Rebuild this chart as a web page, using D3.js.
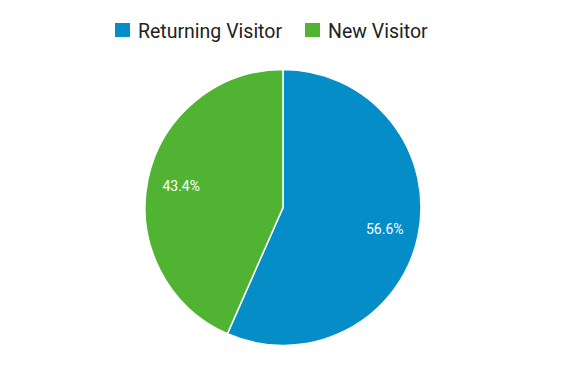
<!DOCTYPE html>
<html>
<head>
<meta charset="utf-8">
<script src="https://cdn.jsdelivr.net/npm/d3@7"></script>
<style>
  body { margin: 0; background: #fff; }
  text { font-family: Roboto, "Noto Sans", sans-serif; }
</style>
</head>
<body>
<svg id="chart" width="571" height="387"></svg>
<script>
// visitor split
const categories = ['Returning Visitor', 'New Visitor'];
const values = [56.6, 43.4];
const colours = ['#058dc7', '#50b432'];

const svg = d3.select('#chart');
const cx = 283, cy = 207.5, radius = 138;

let pie = d3.pie().sort(null).value(d => d.value);
let arcs = pie(categories.map((c, i) => ({name: c, value: values[i]})));
let arc = d3.arc().innerRadius(0).outerRadius(radius);
let labelArc = d3.arc().innerRadius(104).outerRadius(104);

let g = svg.append('g').attr('transform', `translate(${cx},${cy})`);

g.selectAll('path')
    .data(arcs)
    .enter().append('path')
    .attr('d', arc)
    .attr('fill', (d, i) => colours[i])
    .attr('stroke', '#fff')
    .attr('stroke-width', 1.5);

g.selectAll('text.lbl')
    .data(arcs)
    .enter().append('text')
    .attr('class', 'lbl')
    .attr('transform', d => `translate(${labelArc.centroid(d)})`)
    .attr('text-anchor', 'middle')
    .attr('dy', '0.35em')
    .attr('fill', '#fff')
    .attr('font-size', 14)
    .text(d => d.data.value.toFixed(1) + '%');

// legend along the top
let legendX = [115, 305];
let legend = svg.selectAll('g.legend')
    .data(categories)
    .enter().append('g')
    .attr('class', 'legend')
    .attr('transform', (d, i) => `translate(${legendX[i]},23)`);

legend.append('rect')
    .attr('width', 15)
    .attr('height', 14)
    .attr('fill', (d, i) => colours[i]);

legend.append('text')
    .attr('x', 23)
    .attr('y', 14.5)
    .attr('font-size', 19.5)
    .attr('fill', '#222')
    .text(d => d);
</script>
</body>
</html>
